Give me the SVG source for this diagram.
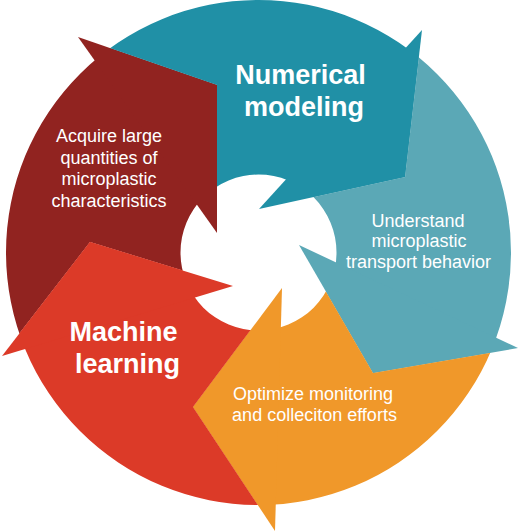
<svg xmlns="http://www.w3.org/2000/svg" width="520" height="532" viewBox="0 0 520 532">
<defs>
<clipPath id="ring"><path clip-rule="evenodd" d="M258.5,0 A252.5,252.5 0 1,1 258.5,505 A252.5,252.5 0 1,1 258.5,0 Z M258.5,174.5 A78,78 0 1,0 258.5,330.5 A78,78 0 1,0 258.5,174.5 Z"/></clipPath>
<style>
.lbl{font-family:"Liberation Sans",Arial,Helvetica,sans-serif;fill:#ffffff;font-size:18px;text-anchor:middle}
.big{font-weight:bold;font-size:27px}
.dr{fill:#912320}
.tl{fill:#2090a6}
.lt{fill:#5ba8b6}
.or{fill:#f0982a}
.rd{fill:#dc3a28}
</style>
</defs>
<rect x="0" y="0" width="520" height="532" fill="#ffffff"/>
<g id="node-acquire">
<path class="dr" clip-path="url(#ring)" d="M2,356 L90,242 L233,286 L258.5,252.5 L217,233 L217,85 L78,37 L-75,-146 L-224,447 Z"/>
<polygon class="dr" points="78,37 217,85 217,233"/>
<text class="lbl" x="109" y="142">Acquire large</text>
<text class="lbl" x="109" y="163.5">quantities of</text>
<text class="lbl" x="109" y="185">microplastic</text>
<text class="lbl" x="109" y="206.5">characteristics</text>
</g>
<g id="node-numerical">
<path class="tl" clip-path="url(#ring)" d="M78,37 L217,85 L217,233 L258.5,252.5 L259,209 L405,177 L422,30 L566,-167 L-75,-146 Z"/>
<polygon class="tl" points="422,30 405,177 259,209"/>
<text class="lbl big" x="300.5" y="83.5">Numerical</text>
<text class="lbl big" x="304" y="115.5">modeling</text>
</g>
<g id="node-understand">
<path class="lt" clip-path="url(#ring)" d="M422,30 L405,177 L259,209 L258.5,252.5 L299,245 L373,373 L518,348 L746,432 L566,-167 Z"/>
<polygon class="lt" points="518,348 373,373 299,245"/>
<text class="lbl" x="418" y="226.5">Understand</text>
<text class="lbl" x="419" y="247">microplastic</text>
<text class="lbl" x="418.5" y="268">transport behavior</text>
</g>
<g id="node-optimize">
<path class="or" clip-path="url(#ring)" d="M518,348 L373,373 L299,245 L258.5,252.5 L282,288 L193,407 L275,531 L289,771 L746,432 Z"/>
<polygon class="or" points="275,531 193,407 282,288"/>
<text class="lbl" x="313" y="399.5">Optimize monitoring</text>
<text class="lbl" x="314.5" y="421">and colleciton efforts</text>
</g>
<g id="node-machine">
<path class="rd" clip-path="url(#ring)" d="M275,531 L193,407 L282,288 L258.5,252.5 L233,286 L90,242 L2,356 L-224,447 L289,771 Z"/>
<polygon class="rd" points="2,356 90,242 233,286"/>
<text class="lbl big" x="123.5" y="341">Machine</text>
<text class="lbl big" x="127.5" y="373">learning</text>
</g>
</svg>
